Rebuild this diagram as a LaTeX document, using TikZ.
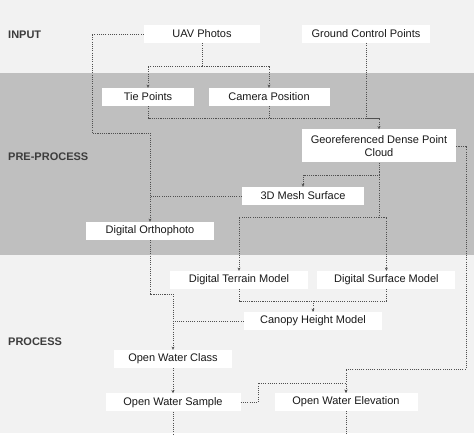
\documentclass[tikz,border=0pt]{standalone}
\usepackage{fontspec}
\setmainfont{Liberation Sans}
\usetikzlibrary{positioning,arrows.meta}
\definecolor{bandlight}{HTML}{F2F2F2}
\definecolor{banddark}{HTML}{BFBFBF}
\definecolor{linegray}{HTML}{505050}
\definecolor{labelgray}{HTML}{3C3C3C}

\begin{document}
\begin{tikzpicture}[x=1pt,y=-1pt,>={Stealth[length=3.2pt,width=3pt]},
    step node/.style={fill=white,inner sep=0pt,minimum height=18pt,text=black!90,font=\fontsize{11}{12.5}\selectfont},
    stage/.style={anchor=west,inner sep=0pt,text=labelgray,font=\fontsize{11}{13}\selectfont\bfseries},
    link/.style={draw=linegray,line width=0.75pt,dash pattern=on 1.1pt off 1.1pt}]
            \useasboundingbox (0,0) rectangle (474,435);

            % stage bands
            \fill[bandlight] (0,0) rectangle (474,73);
            \fill[banddark] (0,73) rectangle (474,255);
            \fill[bandlight] (0,255) rectangle (474,433);

            \node[stage] (in) at (8,35) {INPUT};
            \node[stage] (pre) at (8,157) {PRE-PROCESS};
            \node[stage] (pro) at (8,342) {PROCESS};

            \node[step node,minimum width=116pt] (1) at (202,34) {UAV Photos};
            \node[step node,minimum width=128pt] (2) at (366,34) {Ground Control Points};

            \node[step node,minimum width=92pt] (3) at (148,97) {Tie Points};
            \node[step node,minimum width=121pt] (4) at (269,97) {Camera Position};
            \node[step node,minimum width=154pt,minimum height=33pt,align=center] (5) at (379,146) {Georeferenced Dense Point\\Cloud};

            \node[step node,minimum width=122pt] (6) at (303,196) {3D Mesh Surface};
            \node[step node,minimum width=128pt] (7) at (150,231) {Digital Orthophoto};

            \node[step node,minimum width=138pt] (8) at (239,280) {Digital Terrain Model};
            \node[step node,minimum width=138pt] (9) [right=9pt of 8] {Digital Surface Model};
            \node[step node,minimum width=138pt] (10) at (313,321) {Canopy Height Model};

            \node[step node,minimum width=118pt] (11) at (173,359) {Open Water Class};
            \node[step node,minimum width=135pt] (12) [below=25pt of 11] {Open Water Sample};
            \node[step node,minimum width=143pt] (13) at (346,402) {Open Water Elevation};

            % bends and free ends
            \coordinate (k1) at (92,133);
            \coordinate (k2) at (202,66);
            \coordinate (k3) at (379,118);
            \coordinate (k4) at (379,175);
            \coordinate (k5) at (379,217);
            \coordinate (k6) at (466,369);
            \coordinate (k7) at (173,294);
            \coordinate (k8) at (313,301);
            \coordinate (k9) at (258,383);
            \coordinate (e1) at (173,435);
            \coordinate (e2) at (346,435);

            \draw[link,->] (1.west) -| (k1) -| (7.north);
            \draw[link] (1.south) -- (k2);
            \draw[link,->] (k2) -| (3.north);
            \draw[link,->] (k2) -| (4.north);

            \draw[link,->] (3.south) |- (k3) -- (5.north);
            \draw[link] (4.south) -- (4.south |- k3);
            \draw[link] (2.south) |- (k3);

            \draw[link,->] (5.south) -- (k4) -| (6.north);
            \draw[link] (k4) -- (k5);
            \draw[link,->] (k5) -| (8.north);
            \draw[link,->] (k5) -| (9.north);
            \draw[link] (6.west) -- (6.west -| 7.north);
            \draw[link,->] (5.east) -| (k6) -| (13.north);

            \draw[link,->] (7.south) |- (k7) -- (11.north);
            \draw[link,->] (8.south) |- (k8) -- (10.north);
            \draw[link] (9.south) |- (k8);
            \draw[link] (10.west) -- (10.west -| 11.north);

            \draw[link,->] (11.south) -- (12.north);
            \draw[link,->] (12.east) -| (k9) -| (13.north);
            \draw[link] (12.south) -- (e1);
            \draw[link] (13.south) -- (e2);
            \end{tikzpicture}
\end{document}
